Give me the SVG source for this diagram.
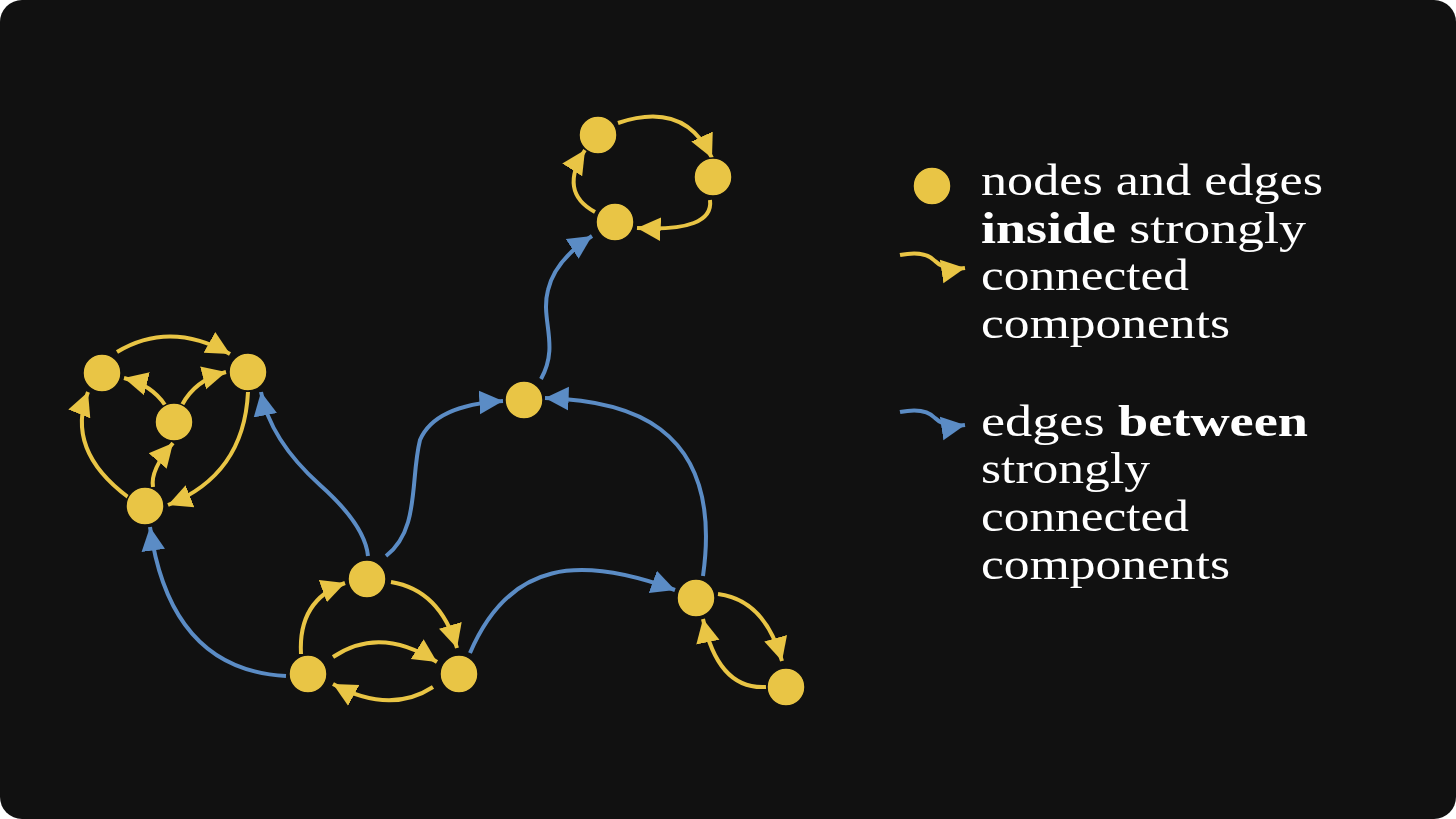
<svg xmlns="http://www.w3.org/2000/svg" width="1456" height="819" viewBox="0 0 1456 819">
<defs>
<style>
.y{fill:none;stroke:#E9C545;stroke-width:4}
.b{fill:none;stroke:#5B8CC5;stroke-width:4}
.n{fill:#E9C545;stroke:#111;stroke-width:1.5}
.t{font-family:"Liberation Serif","DejaVu Serif",serif;font-size:45px;fill:#fff}
</style>
<marker id="ay" markerUnits="userSpaceOnUse" markerWidth="26" markerHeight="26" refX="20" refY="10" viewBox="0 0 22 20" orient="auto"><path d="M0,0 L20,10 L0,20 z" fill="#E9C545"/></marker>
<marker id="ab" markerUnits="userSpaceOnUse" markerWidth="26" markerHeight="26" refX="20" refY="10" viewBox="0 0 22 20" orient="auto"><path d="M0,0 L20,10 L0,20 z" fill="#5B8CC5"/></marker>
</defs>
<rect width="1456" height="819" rx="22" fill="#111111"/>
<g id="connectors">
<path class="y" marker-end="url(#ay)" d="M117,352 Q170,320 230,354"/>
<path class="y" marker-end="url(#ay)" d="M165,405 Q152,385 124,378"/>
<path class="y" marker-end="url(#ay)" d="M182,405 Q195,380 226,372"/>
<path class="y" marker-end="url(#ay)" d="M128,497 Q65,450 88,392"/>
<path class="y" marker-end="url(#ay)" d="M248,392 Q244,475 168,505"/>
<path class="y" marker-end="url(#ay)" d="M153,487 Q150,470 173,443"/>
<path class="y" marker-end="url(#ay)" d="M391,582 Q440,590 457,648"/>
<path class="y" marker-end="url(#ay)" d="M301,654 Q298,600 345,583"/>
<path class="y" marker-end="url(#ay)" d="M333,657 Q380,625 437,662"/>
<path class="y" marker-end="url(#ay)" d="M433,687 Q390,715 333,684"/>
<path class="y" marker-end="url(#ay)" d="M718,594 Q765,600 782,661"/>
<path class="y" marker-end="url(#ay)" d="M766,687 Q718,690 703,619"/>
<path class="y" marker-end="url(#ay)" d="M618,123 Q685,100 712,158"/>
<path class="y" marker-end="url(#ay)" d="M710,200 Q714,232 637,228"/>
<path class="y" marker-end="url(#ay)" d="M595,212 Q558,192 585,150"/>
<path class="b" marker-end="url(#ab)" d="M286,676 Q170,670 150,527"/>
<path class="b" marker-end="url(#ab)" d="M368,556 Q365,525 320,485 Q270,440 261,392"/>
<path class="b" marker-end="url(#ab)" d="M386,556 C420,530 410,480 420,440 Q435,405 503,401"/>
<path class="b" marker-end="url(#ab)" d="M470,653 C510,560 580,555 675,590"/>
<path class="b" marker-end="url(#ab)" d="M703,576 C725,420 620,400 545,398"/>
<path class="b" marker-end="url(#ab)" d="M541,379 C560,345 540,320 548,290 Q555,260 592,236"/>
<path class="y" marker-end="url(#ay)" d="M900,255 Q925,250 935,261 Q945,271 965,268"/>
<path class="b" marker-end="url(#ab)" d="M900,412 Q925,407 935,418 Q945,428 965,425"/>
</g>
<g id="A"><circle class="n" cx="102" cy="373" r="19"/></g>
<g id="B"><circle class="n" cx="248" cy="372" r="19"/></g>
<g id="C"><circle class="n" cx="174" cy="422" r="19"/></g>
<g id="D"><circle class="n" cx="145" cy="506" r="19"/></g>
<g id="E"><circle class="n" cx="367" cy="579" r="19"/></g>
<g id="F"><circle class="n" cx="308" cy="674" r="19"/></g>
<g id="G"><circle class="n" cx="459" cy="674" r="19"/></g>
<g id="H"><circle class="n" cx="524" cy="400" r="19"/></g>
<g id="I"><circle class="n" cx="598" cy="135" r="19"/></g>
<g id="J"><circle class="n" cx="713" cy="177" r="19"/></g>
<g id="K"><circle class="n" cx="615" cy="222" r="19"/></g>
<g id="L"><circle class="n" cx="696" cy="598" r="19"/></g>
<g id="M"><circle class="n" cx="786" cy="687" r="19"/></g>
<g id="legend">
<circle class="n" cx="932" cy="186" r="19"/>
<text class="t" x="981" y="195" textLength="342" lengthAdjust="spacingAndGlyphs">nodes and edges</text>
<text class="t" x="981" y="243" textLength="325" lengthAdjust="spacingAndGlyphs"><tspan font-weight="bold">inside</tspan> strongly</text>
<text class="t" x="981" y="290" textLength="208" lengthAdjust="spacingAndGlyphs">connected</text>
<text class="t" x="981" y="338" textLength="249" lengthAdjust="spacingAndGlyphs">components</text>
<text class="t" x="981" y="436" textLength="327" lengthAdjust="spacingAndGlyphs">edges <tspan font-weight="bold">between</tspan></text>
<text class="t" x="981" y="483" textLength="169" lengthAdjust="spacingAndGlyphs">strongly</text>
<text class="t" x="981" y="531" textLength="208" lengthAdjust="spacingAndGlyphs">connected</text>
<text class="t" x="981" y="579" textLength="249" lengthAdjust="spacingAndGlyphs">components</text>
</g>
</svg>
